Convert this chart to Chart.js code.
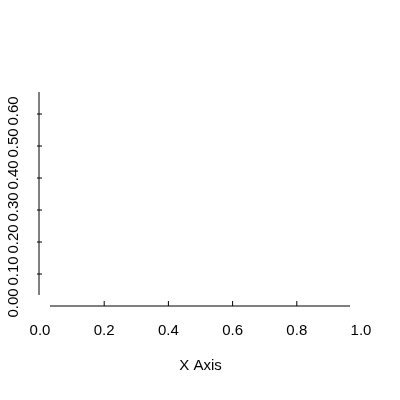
<!DOCTYPE html>
<html>
<head>
<script src="https://cdn.jsdelivr.net/npm/chart.js@4"></script>
<style>body{margin:0;background:#fff}</style>
</head>
<body>
<div style="width:400px;height:400px"><canvas id="grafico"></canvas></div>
<script>
const xTicks = [0.0, 0.2, 0.4, 0.6, 0.8, 1.0];
const yTicks = [0.0, 0.1, 0.2, 0.3, 0.4, 0.5, 0.6];
const pontos = [];
const xTitulo = "X Axis";

const eixos = {
    id: 'eixos',
    afterDraw(chart) {
        const c = chart.ctx, x = chart.scales.x, y = chart.scales.y;
        c.save();
        c.strokeStyle = '#000';
        c.lineWidth = 1;
        c.fillStyle = '#000';
        c.font = '15px "Liberation Sans", Arial';
        // x axis
        let yl = y.getPixelForValue(0);
        c.beginPath();
        c.moveTo(50, yl); c.lineTo(350, yl);
        xTicks.forEach(v => {
            let px = x.getPixelForValue(v);
            if (px > 50 && px < 350) { c.moveTo(px, yl); c.lineTo(px, yl - 5); }
        });
        c.stroke();
        c.textAlign = 'center';
        c.textBaseline = 'top';
        xTicks.forEach(v => c.fillText(v.toFixed(1), x.getPixelForValue(v), yl + 17));
        c.fillText(xTitulo, (x.left + x.right) / 2, yl + 52);
        // y axis
        let xl = 39;
        c.beginPath();
        c.moveTo(xl, 92); c.lineTo(xl, 295);
        yTicks.forEach(v => {
            let py = y.getPixelForValue(v);
            if (py > 92 && py < 295) { c.moveTo(xl - 2, py); c.lineTo(xl + 3, py); }
        });
        c.stroke();
        yTicks.forEach(v => {
            c.save();
            c.translate(14, y.getPixelForValue(v) - 3);
            c.rotate(-Math.PI / 2);
            c.textAlign = 'center';
            c.textBaseline = 'middle';
            c.fillText(v.toFixed(2), 0, 0);
            c.restore();
        });
        c.restore();
    }
};

new Chart(document.getElementById('grafico'), {
    type: 'scatter',
    data: { datasets: [{ data: pontos }] },
    options: {
        responsive: true,
        maintainAspectRatio: false,
        animation: false,
        layout: { padding: { left: 40, right: 39, top: 114, bottom: 94 } },
        plugins: { legend: { display: false }, tooltip: { enabled: false } },
        scales: {
            x: { display: false, min: 0, max: 1 },
            y: { display: false, min: 0, max: 0.6 }
        }
    },
    plugins: [eixos]
});
</script>
</body>
</html>
